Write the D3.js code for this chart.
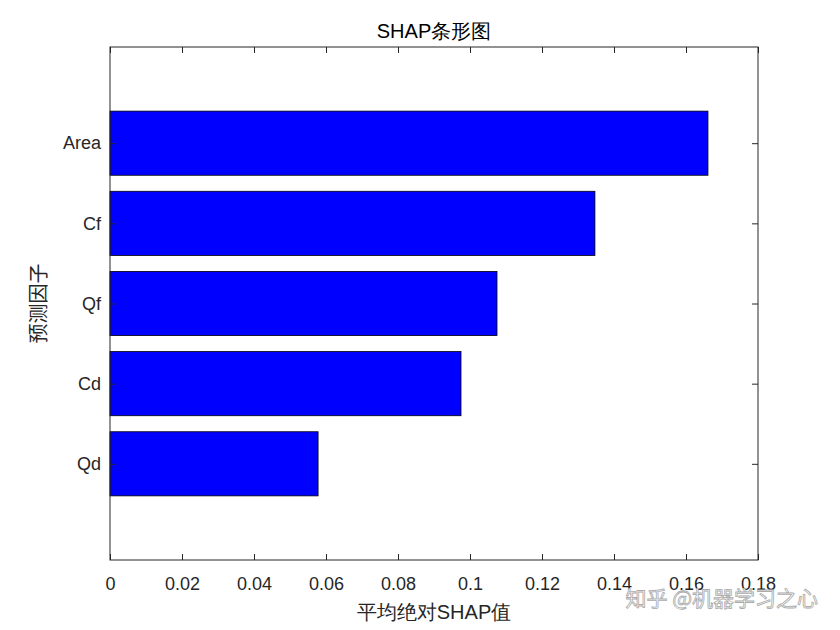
<!DOCTYPE html>
<html><head><meta charset="utf-8">
<script src="https://cdn.jsdelivr.net/npm/d3@7"></script>
<style>body{margin:0;background:#fff}</style>
</head><body>
<svg id="chart" width="840" height="630"></svg>
<script>
// feature names, bottom to top as positions 1..5
const factors = ['Qd', 'Cd', 'Qf', 'Cf', 'Area'];
const meanShap = [0.0578, 0.0975, 0.1075, 0.1347, 0.1661];
const xTicks = [0, 0.02, 0.04, 0.06, 0.08, 0.1, 0.12, 0.14, 0.16, 0.18];

const svg = d3.select('#chart');
const mLeft = 110, mRight = 758, mTop = 47, mBottom = 560;

const x = d3.scaleLinear().domain([0, 0.18]).range([mLeft, mRight]);
const y = d3.scaleLinear().domain([-0.2, 6.2]).range([mBottom, mTop]);
const barH = y(0) - y(0.8);

svg.selectAll('rect.bar')
  .data(factors)
  .enter().append('rect')
  .attr('class', 'bar')
  .attr('x', x(0))
  .attr('y', (d, i) => y(i + 1) - barH / 2)
  .attr('width', (d, i) => x(meanShap[i]) - x(0))
  .attr('height', barH)
  .attr('fill', '#0000ff')
  .attr('stroke', '#000')
  .attr('stroke-width', 0.8);

const font = 'Liberation Sans, Arial, sans-serif';

const xAxis = d3.axisBottom(x).tickValues(xTicks).tickSize(-6).tickFormat(d => String(+d.toFixed(2)));
const gx = svg.append('g').attr('transform', `translate(0,${mBottom})`).call(xAxis);
svg.append('g').attr('transform', `translate(0,${mTop})`)
  .call(d3.axisTop(x).tickValues(xTicks).tickSize(-6).tickFormat(''));

const yAxis = d3.axisLeft(y).tickValues([1, 2, 3, 4, 5]).tickSize(-6).tickFormat((d) => factors[d - 1]);
const gy = svg.append('g').attr('transform', `translate(${mLeft},0)`).call(yAxis);
svg.append('g').attr('transform', `translate(${mRight},0)`)
  .call(d3.axisRight(y).tickValues([1, 2, 3, 4, 5]).tickSize(-6).tickFormat(''));

svg.selectAll('.domain').remove();
svg.selectAll('.tick line').attr('stroke', '#262626');
gx.selectAll('text').attr('y', 14).attr('dy', '0.9em').attr('font-size', 18).attr('font-family', font).attr('fill', '#262626');
gy.selectAll('text').attr('x', -9).attr('font-size', 18).attr('font-family', font).attr('fill', '#262626');

svg.append('rect')
  .attr('x', mLeft).attr('y', mTop)
  .attr('width', mRight - mLeft).attr('height', mBottom - mTop)
  .attr('fill', 'none').attr('stroke', '#262626').attr('stroke-width', 1);

svg.append('text').attr('x', (mLeft + mRight) / 2).attr('y', 38)
  .attr('text-anchor', 'middle').attr('font-size', 20).attr('font-family', font)
  .text('SHAP条形图');

svg.append('text').attr('x', (mLeft + mRight) / 2).attr('y', 619)
  .attr('text-anchor', 'middle').attr('font-size', 20).attr('font-family', font).attr('fill', '#262626')
  .text('平均绝对SHAP值');

svg.append('text').attr('transform', `translate(46,${(mTop + mBottom) / 2}) rotate(-90)`)
  .attr('text-anchor', 'middle').attr('font-size', 20).attr('font-family', 'Noto Sans CJK SC, serif').attr('fill', '#262626')
  .text('预测因子');

svg.append('text').attr('x', 818).attr('y', 606)
  .attr('text-anchor', 'end').attr('font-size', 21).attr('font-family', 'Noto Sans CJK SC')
  .attr('fill', '#fff').attr('stroke', '#aaa').attr('stroke-width', 0.8)
  .text('知乎 @机器学习之心');
</script>
</body></html>
